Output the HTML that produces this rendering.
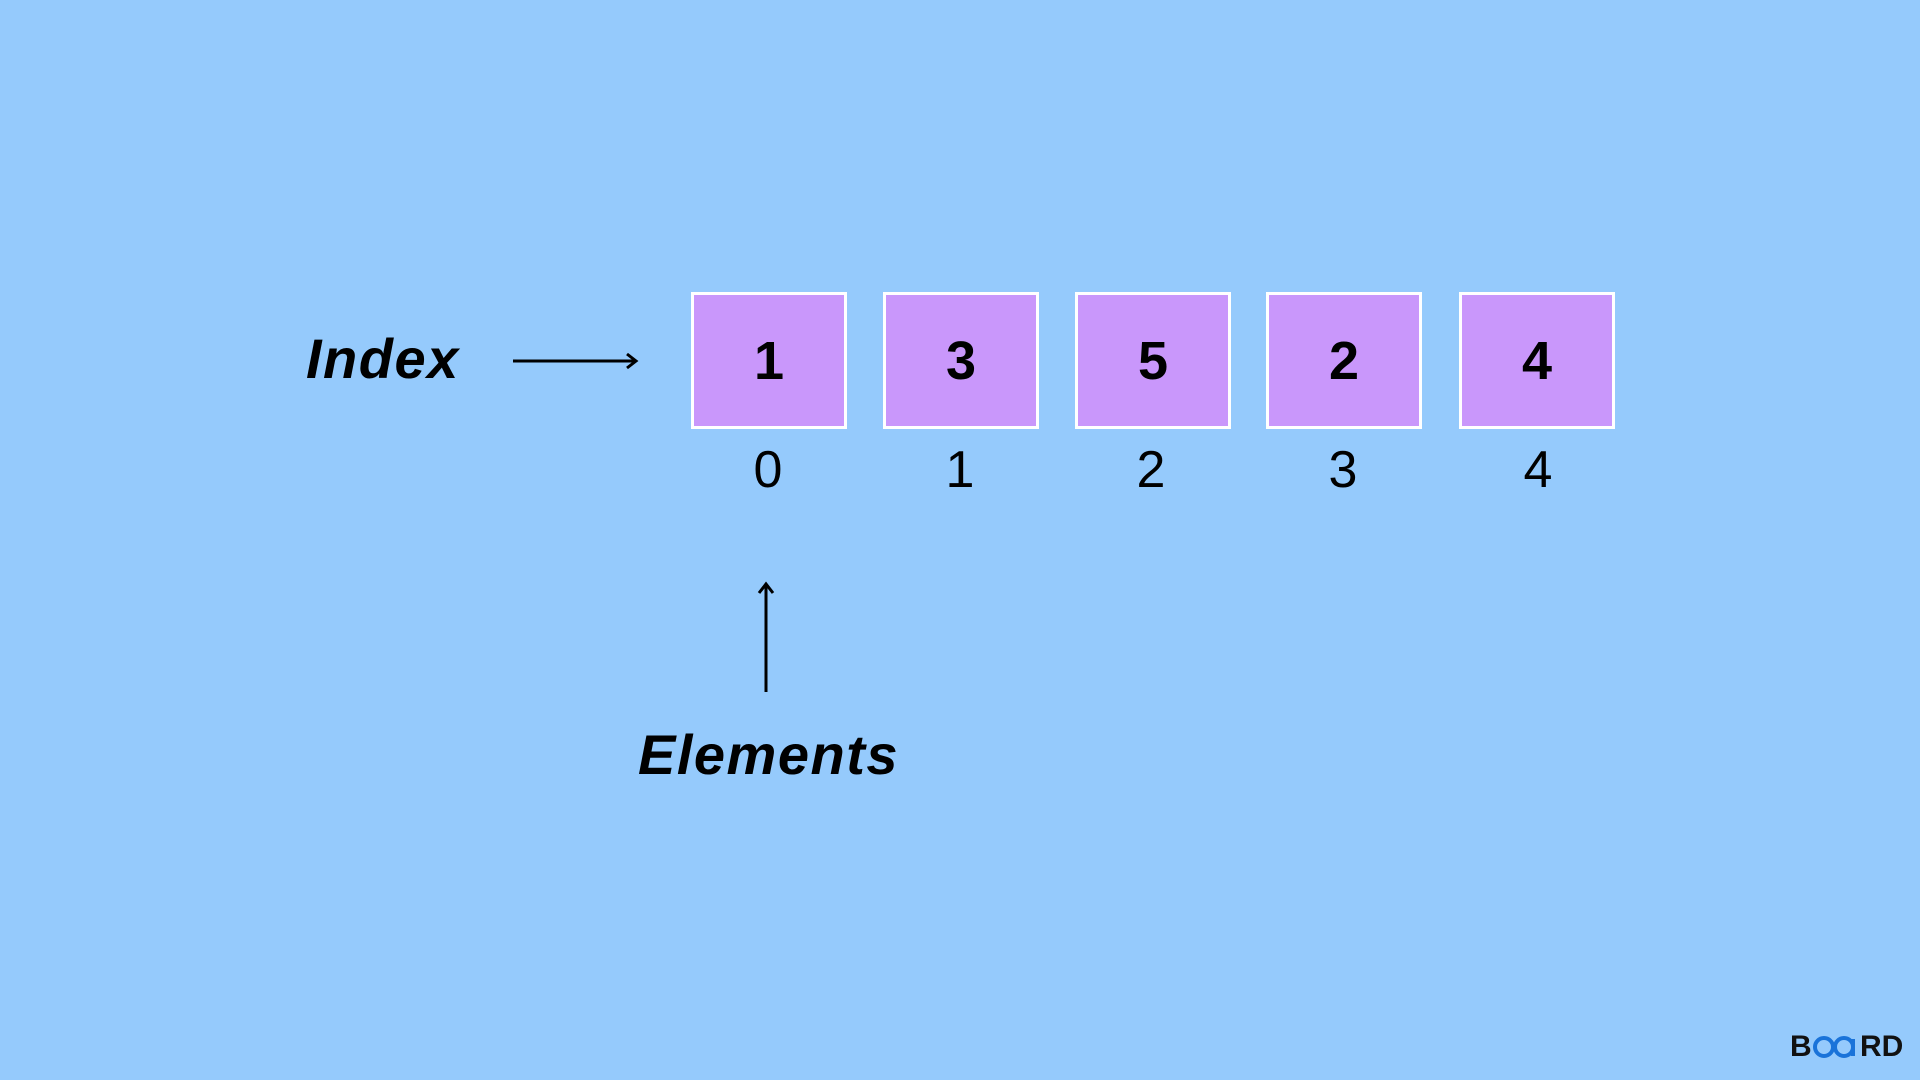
<!DOCTYPE html>
<html><head><meta charset="utf-8"><style>
html,body{margin:0;padding:0}
body{width:1920px;height:1080px;background:#95cafc;position:relative;overflow:hidden;font-family:"Liberation Sans",sans-serif}
.box{position:absolute;top:292px;width:150px;height:131px;background:#c997fb;border:3px solid #fff;display:flex;align-items:center;justify-content:center;font-weight:900;font-size:54px;color:#000}
.idx{position:absolute;top:440px;width:100px;text-align:center;font-size:52px;color:#000;font-weight:300;line-height:60px}
.lbl{position:absolute;font-weight:bold;font-style:italic;font-size:56px;color:#000;line-height:60px;letter-spacing:1.5px}
</style></head><body>
<div class="lbl" style="left:306px;top:329px">Index</div>
<div class="lbl" style="left:638px;top:725px">Elements</div>
<svg width="1920" height="1080" style="position:absolute;left:0;top:0">
<line x1="513" y1="361" x2="636" y2="361" stroke="#000" stroke-width="3"/>
<polyline points="627,354 636,361 627,368" fill="none" stroke="#000" stroke-width="3"/>
<line x1="766" y1="692" x2="766" y2="584" stroke="#000" stroke-width="3"/>
<polyline points="759,593 766,584 773,593" fill="none" stroke="#000" stroke-width="3"/>
<circle cx="1824" cy="1047" r="9" fill="none" stroke="#1a73d9" stroke-width="4"/>
<circle cx="1844" cy="1047" r="9" fill="none" stroke="#1a73d9" stroke-width="4"/>
<line x1="1853" y1="1039" x2="1853" y2="1056" stroke="#1a73d9" stroke-width="4"/>
</svg>
<div class="box" style="left:691px">1</div>
<div class="box" style="left:883px">3</div>
<div class="box" style="left:1075px">5</div>
<div class="box" style="left:1266px">2</div>
<div class="box" style="left:1459px">4</div>
<div class="idx" style="left:718px">0</div>
<div class="idx" style="left:910px">1</div>
<div class="idx" style="left:1101px">2</div>
<div class="idx" style="left:1293px">3</div>
<div class="idx" style="left:1488px">4</div>
<div style="position:absolute;left:1790px;top:1031px;font-weight:900;font-size:30px;color:#111;line-height:32px">B</div>
<div style="position:absolute;left:1860px;top:1031px;font-weight:900;font-size:30px;color:#111;line-height:32px">RD</div>
</body></html>
